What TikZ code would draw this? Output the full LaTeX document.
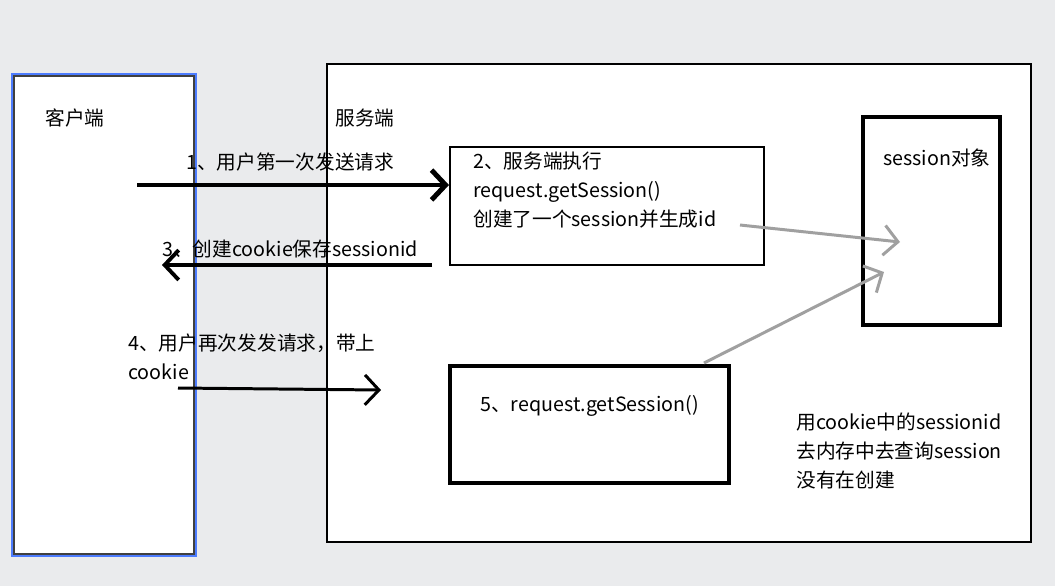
\documentclass[tikz,border=0pt]{standalone}
\usepackage{fontspec}
\setmainfont{Noto Sans CJK SC}
\usetikzlibrary{arrows.meta}
\usetikzlibrary{positioning}

\definecolor{bggray}{RGB}{234,235,237}
\definecolor{selblue}{RGB}{77,124,254}
\definecolor{linkgray}{RGB}{160,160,160}

\tikzset{
  lbl/.style={anchor=west,inner sep=0pt},
  boxnode/.style={draw=black,fill=white,inner sep=0pt},
  flow/.style={-{Straight Barb[length=8pt,width=17pt]},black},
}

\begin{document}
\begin{tikzpicture}[x=0.02cm,y=-0.02cm,font=\fontsize{11.2pt}{16.5pt}\selectfont]
\fill[bggray](0,0) rectangle (1055,586);
\useasboundingbox (0,0) rectangle (1055,586);

% server side
\node[boxnode,line width=1.2pt,minimum width=14.08cm,minimum height=9.56cm] (server) at (679,303) {};
\node[boxnode,line width=1.2pt,minimum width=6.28cm,minimum height=2.36cm] (exec) at (607,206) {};
\node[boxnode,line width=2.2pt,minimum width=2.74cm,minimum height=4.16cm] (sess) at (931.5,221) {};
\node[boxnode,line width=2.2pt,minimum width=5.58cm,minimum height=2.34cm] (again) at (589.5,424.5) {};

% client side
\node[boxnode,draw=selblue,line width=2pt,minimum width=3.64cm,minimum height=9.6cm] (client) at (104,315) {};
\draw[black!75,line width=0.7pt]([shift={(2.8,2.8)}]client.north west) rectangle ([shift={(-2.8,-2.8)}]client.south east);

\node[lbl] (ctitle) at (45,118) {客户端};
\node[lbl] (stitle) at (335,118) {服务端};
\node[lbl] (sesstitle) at (883,158) {session对象};
\node[lbl,anchor=base west,align=left] (exectxt) at (473,226.5) {2、服务端执行\\request.getSession()\\创建了一个session并生成id};
\node[lbl] (againtxt) at (480,406) {5、request.getSession()};
\node[lbl,anchor=base west,align=left] (note) at (796,487.5) {用cookie中的sessionid\\去内存中去查询session\\没有在创建};

\node[lbl] (l1) at (186,162) {1、用户第一次发送请求};
\node[lbl] (l3) at (162,249) {3、创建cookie保存sessionid};
\node[lbl,anchor=base west,align=left] (l4) at (128,379.5) {4、用户再次发发请求，带上\\cookie};

\coordinate (s1) at (137,185);
\coordinate (s3) at (432,265);
\coordinate (e3) at (162,265);
\coordinate (s4) at (178,388);
\coordinate (e4) at (381,390);
\coordinate (ga) at (740,225);
\coordinate (gae) at (900,242);
\coordinate (gb) at (704,363);
\coordinate (gbe) at (884,272);

\draw[flow,line width=2.8pt] (s1) -- (s1 -| exec.west);
\draw[flow,line width=2.2pt] (s3) -- (e3);
\draw[flow,line width=1.7pt] (s4) -- (e4);

\draw[flow,draw=linkgray,line width=1.7pt] (ga) -- (gae);
\draw[flow,draw=linkgray,line width=1.7pt] (gb) -- (gbe);

\end{tikzpicture}
\end{document}
